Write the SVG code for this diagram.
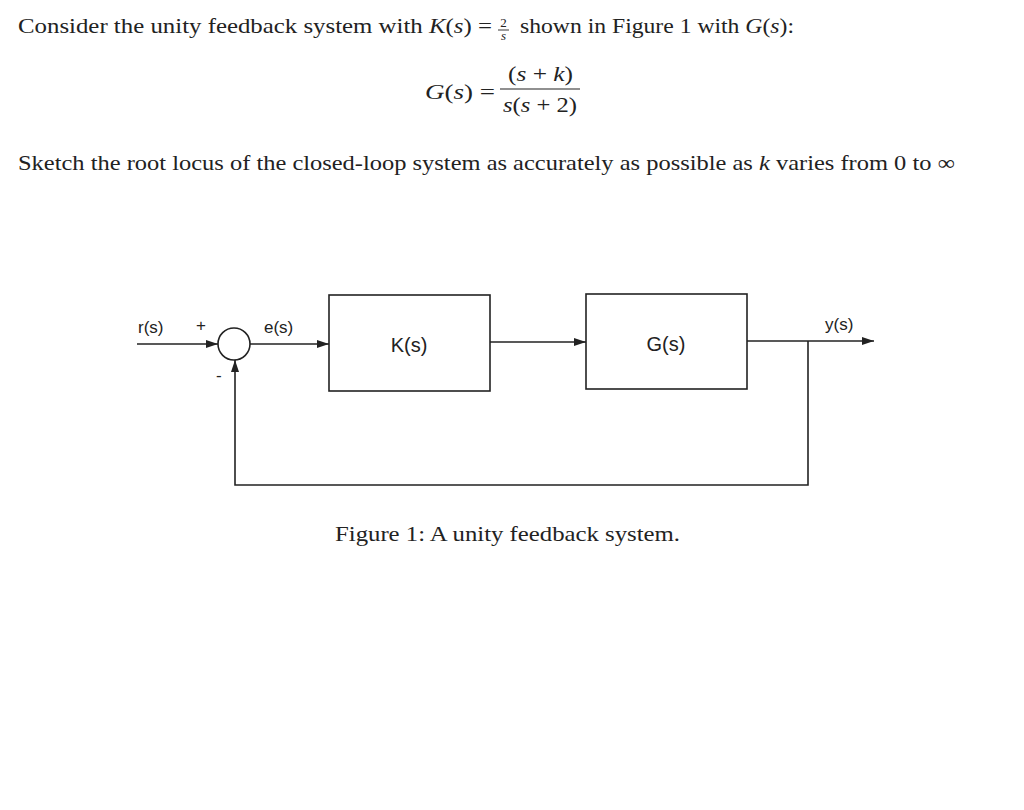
<svg xmlns="http://www.w3.org/2000/svg" width="1024" height="810" viewBox="0 0 1024 810">
<style>
.t{font-family:"Liberation Serif","DejaVu Serif",serif;font-size:21px;fill:#222}
.i{font-style:italic}
.s{font-family:"Liberation Sans",Arial,sans-serif;font-size:17px;fill:#222}
.b{font-family:"Liberation Sans",Arial,sans-serif;font-size:20px;fill:#222}
.ln{stroke:#222;stroke-width:1.6;fill:none}
</style>
<defs>
<marker id="ah" viewBox="0 0 12 8" refX="12" refY="4" markerWidth="12" markerHeight="8" markerUnits="userSpaceOnUse" orient="auto">
<path d="M0,0 L12,4 L0,8 Z" fill="#222"/>
</marker>
</defs>
<rect width="1024" height="810" fill="#fff"/>
<g id="text">
<text class="t" x="18" y="33" textLength="474" lengthAdjust="spacingAndGlyphs">Consider the unity feedback system with <tspan class="i">K</tspan>(<tspan class="i">s</tspan>) =</text>
<text class="t" x="503.5" y="27" text-anchor="middle" style="font-size:13px">2</text>
<line x1="498" y1="30" x2="509" y2="30" stroke="#222" stroke-width="0.9"/>
<text class="t i" x="503.5" y="40" text-anchor="middle" style="font-size:13px">s</text>
<text class="t" x="520" y="33" textLength="274" lengthAdjust="spacingAndGlyphs">shown in Figure 1 with <tspan class="i">G</tspan>(<tspan class="i">s</tspan>):</text>
<text class="t" x="425" y="99" textLength="70" lengthAdjust="spacingAndGlyphs"><tspan class="i">G</tspan>(<tspan class="i">s</tspan>) =</text>
<text class="t" x="508" y="81" textLength="65" lengthAdjust="spacingAndGlyphs">(<tspan class="i">s</tspan> + <tspan class="i">k</tspan>)</text>
<line x1="500" y1="89" x2="580" y2="89" stroke="#222" stroke-width="1.2"/>
<text class="t" x="503" y="112" textLength="74" lengthAdjust="spacingAndGlyphs"><tspan class="i">s</tspan>(<tspan class="i">s</tspan> + 2)</text>
<text class="t" x="18" y="170" textLength="937" lengthAdjust="spacingAndGlyphs">Sketch the root locus of the closed-loop system as accurately as possible as <tspan class="i">k</tspan> varies from 0 to ∞</text>
<text class="t" x="335" y="541" textLength="345" lengthAdjust="spacingAndGlyphs">Figure 1: A unity feedback system.</text>
</g>
<g id="sum">
<circle cx="234" cy="344" r="16" class="ln"/>
<text class="s" x="196" y="331">+</text>
<text class="s" x="216" y="381">-</text>
</g>
<g id="K">
<rect x="329" y="295" width="161" height="96" class="ln"/>
<text class="b" x="409" y="352" text-anchor="middle">K(s)</text>
</g>
<g id="G">
<rect x="586" y="294" width="161" height="95" class="ln"/>
<text class="b" x="666" y="351" text-anchor="middle">G(s)</text>
</g>
<g id="labels">
<text class="s" x="138" y="333">r(s)</text>
<text class="s" x="264" y="333">e(s)</text>
<text class="s" x="825" y="330">y(s)</text>
</g>
<g id="connectors">
<line x1="137" y1="344" x2="218" y2="344" class="ln" marker-end="url(#ah)"/>
<line x1="250" y1="344" x2="329" y2="344" class="ln" marker-end="url(#ah)"/>
<line x1="490" y1="342" x2="586" y2="342" class="ln" marker-end="url(#ah)"/>
<line x1="747" y1="341" x2="874" y2="341" class="ln" marker-end="url(#ah)"/>
<polyline points="808,341 808,485 235,485 235,360" class="ln" marker-end="url(#ah)"/>
</g>
</svg>
